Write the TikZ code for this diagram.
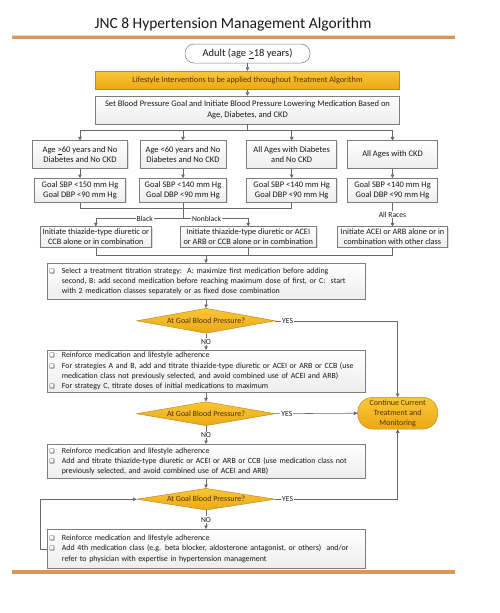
\documentclass[tikz,border=0pt]{standalone}
\usepackage{fontspec}
\setmainfont{Carlito}
\newfontfamily\dejavu{DejaVu Sans}
\usetikzlibrary{arrows.meta,shapes.geometric,shadows}

\definecolor{linec}{RGB}{105,105,105}
\definecolor{gold1}{RGB}{250,198,55}
\definecolor{gold2}{RGB}{236,168,22}
\definecolor{goldb}{RGB}{190,140,35}
\definecolor{orangeline}{RGB}{218,150,95}
\definecolor{boxb}{RGB}{125,125,125}
\definecolor{txt}{RGB}{25,25,25}
\definecolor{goldtxt}{RGB}{80,50,5}

\newcommand{\chk}{\makebox[12.5pt][l]{\dejavu\fontsize{6}{6}\selectfont ❑}}
\newcommand{\ind}{\hspace*{12.5pt}}

\begin{document}
\begin{tikzpicture}[x=1pt,y=-1pt,
  ln/.style={draw=linec, line width=0.55pt},
  arr/.style={ln, -{Triangle[length=3.5pt,width=3.5pt]}},
  box/.style={draw=boxb, line width=0.5pt, top color=white, bottom color=gray!14,
    drop shadow={shadow xshift=1pt,shadow yshift=-1pt,opacity=0.25},
    inner sep=1pt, text=txt, align=center, font=\fontsize{8.5}{10}\selectfont},
  lbox/.style={box, align=left, inner xsep=2.5pt, inner ysep=1pt, minimum width=318.3pt,
    text width=313.3pt, font=\fontsize{7.9}{10.4}\selectfont},
  goldbox/.style={draw=goldb, line width=0.5pt, top color=gold1, bottom color=gold2,
    text=goldtxt, align=center, inner sep=1pt},
  dia/.style={goldbox, diamond, aspect=5.5, inner sep=0.5pt, minimum width=138.3pt,
    minimum height=25pt, font=\fontsize{8}{9.6}\selectfont},
  lab/.style={fill=white, inner sep=1pt, text=txt, font=\fontsize{7.6}{9}\selectfont}
]
\useasboundingbox (0,0) rectangle (499,613);

% title and rules
\node[text=txt, font=\fontsize{15.5}{19}\selectfont] (title) at (233,24) {JNC 8 Hypertension Management Algorithm};
\draw[line width=1pt, orangeline!35] (12,35.3) -- (455,35.3);
\draw[line width=3.2pt, orangeline] (12,37.8) -- (455,37.8);
\draw[line width=3.2pt, orangeline] (12,572) -- (455,572);

% top
\node[draw=boxb, line width=0.5pt, fill=white, rounded corners=9pt, minimum width=125pt,
  minimum height=19pt, inner sep=1pt, text=txt, font=\fontsize{10.5}{12}\selectfont]
  (adult) at (247.5,53.5) {Adult (age \underline{>}18 years)};
\node[goldbox, minimum width=303.6pt, minimum height=18.3pt, font=\fontsize{8.2}{9}\selectfont]
  (life) at (247.5,80.2) {Lifestyle Interventions to be applied throughout Treatment Algorithm};
\node[box, minimum width=303.6pt, minimum height=28pt, font=\fontsize{8.5}{10.5}\selectfont]
  (setbp) at (247.5,110) {Set Blood Pressure Goal and Initiate Blood Pressure Lowering Medication Based on\\ Age, Diabetes, and CKD};

% row 1
\node[box, minimum width=95pt, minimum height=27.6pt] (r1a) at (80,154.5) {Age \underline{>}60 years and No\\ Diabetes and No CKD};
\node[box, minimum width=86.4pt, minimum height=27.6pt] (r1b) at (183,154.5) {Age <60 years and No\\ Diabetes and No CKD};
\node[box, minimum width=90pt, minimum height=27.6pt] (r1c) at (291.7,154.5) {All Ages with Diabetes\\ and No CKD};
\node[box, minimum width=89.6pt, minimum height=27.6pt] (r1d) at (392.5,154.5) {All Ages with CKD};

% row 2
\node[box, minimum width=91pt, minimum height=24pt] (r2a) at (80,190.3) {Goal SBP <150 mm Hg\\ Goal DBP <90 mm Hg};
\node[box, minimum width=87.4pt, minimum height=24pt] (r2b) at (183,190.3) {Goal SBP <140 mm Hg\\ Goal DBP <90 mm Hg};
\node[box, minimum width=90pt, minimum height=24pt] (r2c) at (291.7,190.3) {Goal SBP <140 mm Hg\\ Goal DBP <90 mm Hg};
\node[box, minimum width=89.6pt, minimum height=24pt] (r2d) at (392.5,190.3) {Goal SBP <140 mm Hg\\ Goal DBP <90 mm Hg};

% row 3
\node[box, minimum width=111.7pt, minimum height=20.6pt, font=\fontsize{8.3}{10}\selectfont] (r3a) at (95.8,237) {Initiate thiazide-type diuretic or\\ CCB alone or in combination};
\node[box, minimum width=136.7pt, minimum height=20.6pt, font=\fontsize{8.3}{10}\selectfont] (r3b) at (248.3,237) {Initiate thiazide-type diuretic or ACEI\\ or ARB or CCB alone or in combination};
\node[box, minimum width=110pt, minimum height=20.6pt, font=\fontsize{8.3}{10}\selectfont] (r3c) at (392.5,237) {Initiate ACEI or ARB alone or in\\ combination with other class};

% main column
\node[lbox, minimum height=36pt] (strat) at (206,281.3) {\chk Select a treatment titration strategy:\ \ A: maximize first medication before adding\\ \ind second, B: add second medication before reaching maximum dose of first, or C:\ \ start\\ \ind with 2 medication classes separately or as fixed dose combination};
\node[dia] (d1) at (206,320.8) {At Goal Blood Pressure?};
\node[lbox, minimum height=42.3pt] (b2) at (206,371.2) {\chk Reinforce medication and lifestyle adherence\\ \chk For strategies A and B, add and titrate thiazide-type diuretic or ACEI or ARB or CCB (use\\ \ind medication class not previously selected, and avoid combined use of ACEI and ARB)\\ \chk For strategy C, titrate doses of initial medications to maximum};
\node[dia, minimum height=24pt] (d2) at (206,413.7) {At Goal Blood Pressure?};
\node[goldbox, rounded corners=15pt, minimum width=80pt, minimum height=31.7pt, font=\fontsize{8}{10}\selectfont] (oval) at (397.7,413.2) {Continue Current\\ Treatment and\\ Monitoring};
\node[lbox, minimum height=34pt] (b3) at (206,461.3) {\chk Reinforce medication and lifestyle adherence\\ \chk Add and titrate thiazide-type diuretic or ACEI or ARB or CCB (use medication class not\\ \ind previously selected, and avoid combined use of ACEI and ARB)};
\node[dia, minimum height=21.7pt] (d3) at (206,499.2) {At Goal Blood Pressure?};
\node[lbox, minimum height=39pt] (b4) at (206,548.8) {\chk Reinforce medication and lifestyle adherence\\ \chk Add 4th medication class (e.g. beta blocker, aldosterone antagonist, or others)\ \ and/or\\ \ind refer to physician with expertise in hypertension management};

% connectors
\draw[arr] (adult) -- (life);
\draw[arr] (life) -- (setbp);
\coordinate (busA) at (247.5,130);
\draw[ln] (setbp.south) -- (busA);
\foreach \n in {r1a,r1b,r1c,r1d} \draw[arr] (busA) -| (\n.north);
\draw[arr] (r1a) -- (r2a);
\draw[arr] (r1b) -- (r2b);
\draw[arr] (r1c) -- (r2c);
\draw[arr] (r1d) -- (r2d);
\coordinate (busB) at (183,208.3);
\coordinate (busC) at (183,218.7);
\draw[ln] (r2a.south) |- (busB);
\draw[ln] (r2c.south) |- (busB);
\draw[ln] (r2b.south) -- (busC);
\draw[arr] (busC) -| (r3a.north) node[lab, pos=0.22] {Black};
\draw[arr] (busC) -| (r3b.north) node[lab, pos=0.18] {Nonblack};
\draw[arr] (r2d) -- (r3c) node[lab, midway] {All Races};
\coordinate (busD) at (206,255);
\draw[ln] (r3a.south) |- (busD);
\draw[ln] (r3b.south) |- (busD);
\draw[ln] (r3c.south) |- (busD);
\draw[arr] (busD) -- (strat);
\draw[arr] (strat) -- (d1);
\draw[arr] (d1.east) -| (oval.north) node[lab, pos=0.05] {YES};
\draw[arr] (d1.south) -- (b2.north) node[lab, midway] {NO};
\draw[arr] (b2) -- (d2);
\draw[arr] (d2.east) -- (oval.west) node[lab, pos=0.14] {YES};
\draw[arr] (d2.south) -- (b3.north) node[lab, midway] {NO};
\draw[arr] (b3) -- (d3);
\draw[arr] (d3.east) -| (oval.south) node[lab, pos=0.05] {YES};
\draw[arr] (d3.south) -- (b4.north) node[lab, midway] {NO};
\draw[arr] (b4.west) -- ++(-6,0) |- (d3.west);
\end{tikzpicture}
\end{document}
